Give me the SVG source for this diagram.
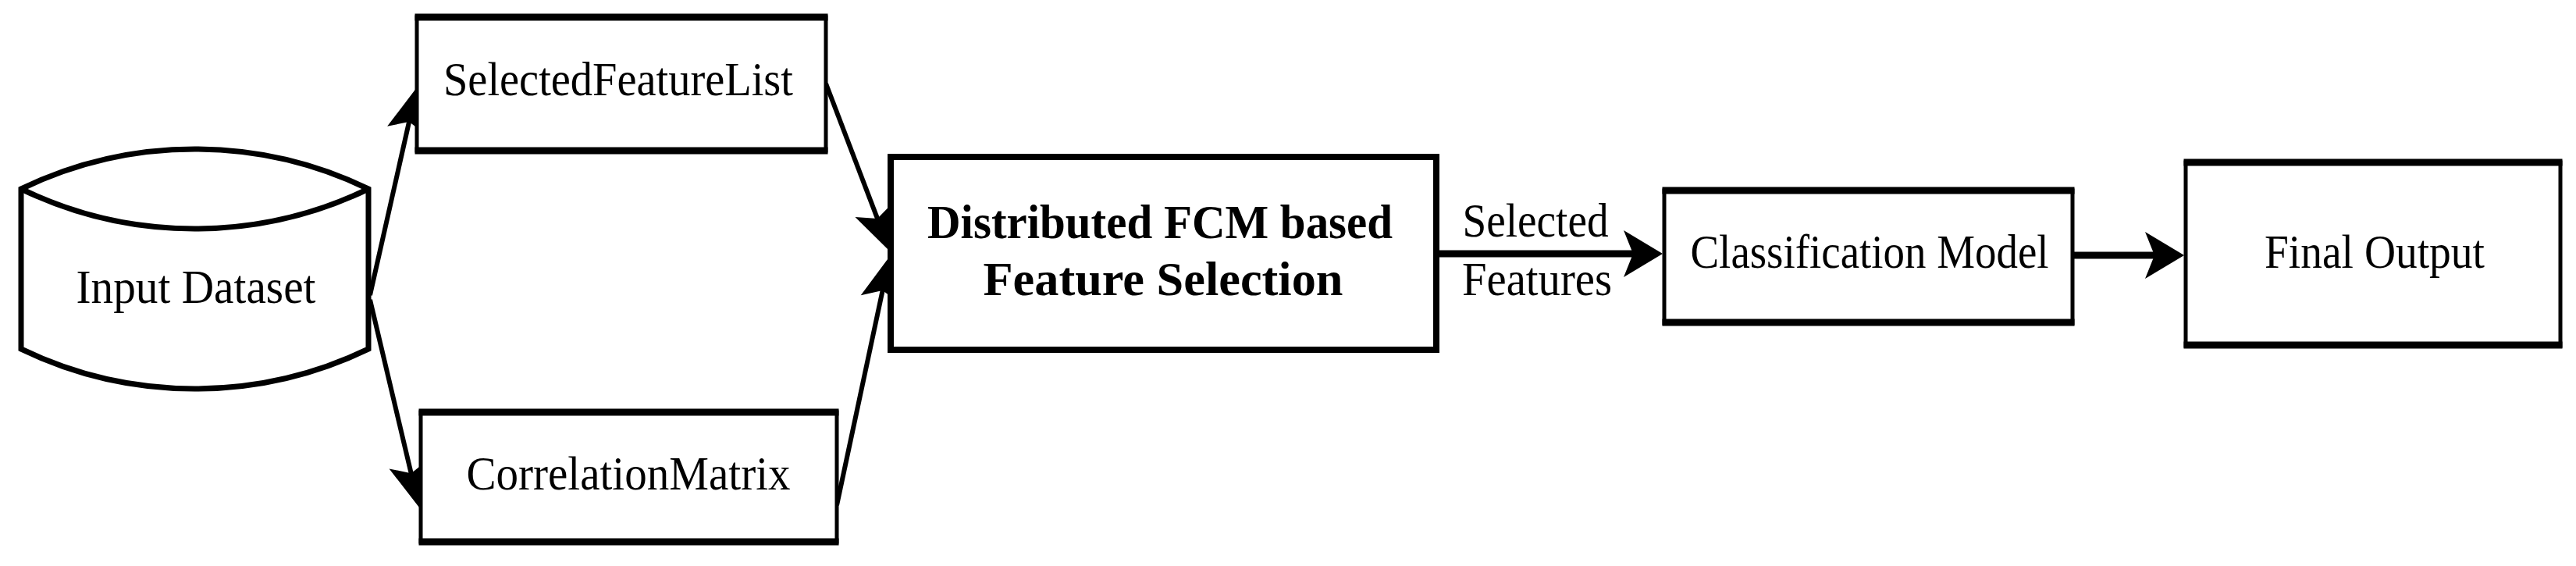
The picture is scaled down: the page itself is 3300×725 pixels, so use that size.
<svg xmlns="http://www.w3.org/2000/svg" width="3300" height="725" viewBox="0 0 3300 725">
  <style>
    .bg { fill: #ffffff; }
    .box { fill: #ffffff; stroke: #000000; stroke-width: 5; }
    .edge { stroke: #000000; stroke-width: 9; fill: none; }
    .cyl { fill: #ffffff; stroke: #000000; stroke-width: 7; stroke-linejoin: miter; }
    .lbl { font-family: "Liberation Serif", "DejaVu Serif", serif; font-size: 62px; fill: #000000; text-anchor: middle; }
    .bold { font-weight: bold; }
    .conn { stroke: #000000; stroke-width: 6; fill: none; marker-end: url(#arrow-d); }
    .thick { stroke-width: 9; marker-end: url(#arrow-h); }
  </style>
  <defs>
    <marker id="arrow-d" markerUnits="userSpaceOnUse" markerWidth="70" markerHeight="70" refX="17" refY="0" orient="auto" overflow="visible">
      <path d="M0,-26 L57,0 L0,26 L12,0 Z" fill="#000000"/>
    </marker>
    <marker id="arrow-h" markerUnits="userSpaceOnUse" markerWidth="70" markerHeight="70" refX="15" refY="0" orient="auto" overflow="visible">
      <path d="M0,-30 L50,0 L0,30 L12,0 Z" fill="#000000"/>
    </marker>
  </defs>
  <rect class="bg" x="0" y="0" width="3300" height="725"/>

  <g id="connectors">
    <line class="conn" x1="474" y1="378" x2="525.2" y2="151"/>
    <line class="conn" x1="474" y1="384" x2="527.8" y2="611"/>
    <line class="conn" x1="1058" y1="107" x2="1125.8" y2="284.6"/>
    <line class="conn" x1="1072" y1="647" x2="1131.7" y2="367.1"/>
    <line class="conn thick" x1="1840" y1="325" x2="2095" y2="325"/>
    <line class="conn thick" x1="2655" y1="327" x2="2763" y2="327"/>
  </g>

  <g id="input-dataset">
    <path class="cyl" d="M27,242 A511,511 0 0 1 472,242 L472,447 A511,511 0 0 1 27,447 Z"/>
    <path class="cyl" d="M27,242 A511,511 0 0 0 472,242" fill="none"/>
    <text class="lbl" x="251" y="388" textLength="307" lengthAdjust="spacingAndGlyphs">Input Dataset</text>
  </g>

  <g id="selected-feature-list">
    <rect class="box" x="534" y="22" width="524" height="171"/>
    <line class="edge" x1="531.5" y1="22" x2="1060.5" y2="22"/>
    <line class="edge" x1="531.5" y1="193" x2="1060.5" y2="193"/>
    <text class="lbl" x="792" y="122" textLength="448" lengthAdjust="spacingAndGlyphs">SelectedFeatureList</text>
  </g>

  <g id="correlation-matrix">
    <rect class="box" x="539" y="528" width="533" height="166"/>
    <line class="edge" x1="536.5" y1="528" x2="1074.5" y2="528"/>
    <line class="edge" x1="536.5" y1="694" x2="1074.5" y2="694"/>
    <text class="lbl" x="805" y="627" textLength="415" lengthAdjust="spacingAndGlyphs">CorrelationMatrix</text>
  </g>

  <g id="fcm-feature-selection">
    <rect class="box" x="1141" y="201" width="699" height="247" style="stroke-width:8"/>
    <text class="lbl bold" x="1486" y="305" textLength="596" lengthAdjust="spacingAndGlyphs">Distributed FCM based</text>
    <text class="lbl bold" x="1490" y="378" textLength="461" lengthAdjust="spacingAndGlyphs">Feature Selection</text>
  </g>

  <g id="edge-label-selected-features">
    <text class="lbl" x="1967" y="303" textLength="187" lengthAdjust="spacingAndGlyphs">Selected</text>
    <text class="lbl" x="1969" y="378" textLength="192" lengthAdjust="spacingAndGlyphs">Features</text>
  </g>

  <g id="classification-model">
    <rect class="box" x="2132" y="244" width="523" height="170"/>
    <line class="edge" x1="2129.5" y1="244" x2="2657.5" y2="244"/>
    <line class="edge" x1="2129.5" y1="413" x2="2657.5" y2="413"/>
    <text class="lbl" x="2395" y="343" textLength="459" lengthAdjust="spacingAndGlyphs">Classification Model</text>
  </g>

  <g id="final-output">
    <rect class="box" x="2800" y="208" width="480" height="235"/>
    <line class="edge" x1="2797.5" y1="208" x2="3282.5" y2="208"/>
    <line class="edge" x1="2797.5" y1="442" x2="3282.5" y2="442"/>
    <text class="lbl" x="3042" y="343" textLength="282" lengthAdjust="spacingAndGlyphs">Final Output</text>
  </g>
</svg>
